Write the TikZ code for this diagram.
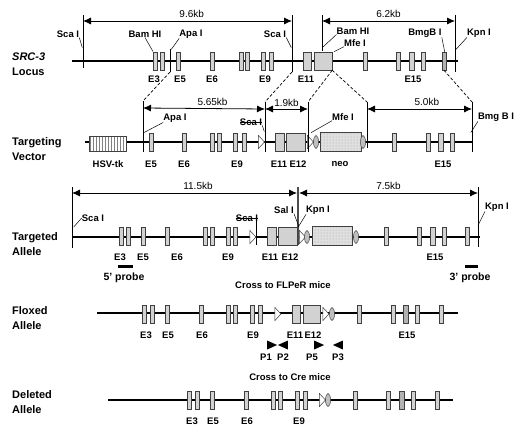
\documentclass[tikz,border=0pt]{standalone}
\usepackage{fontspec}
\setmainfont{Liberation Sans}
\usetikzlibrary{arrows.meta,shapes.geometric,patterns}

\begin{document}
\begin{tikzpicture}[x=1pt,y=-1pt,
    exon/.style={rectangle,draw=black!75,fill=gray!35,line width=0.5pt,minimum width=4pt,minimum height=18pt,inner sep=0pt},
    dark/.style={exon,fill=gray!60},
    neo/.style={exon,minimum height=19pt,preaction={fill=gray!25},pattern=dots,pattern color=gray!70},
    tk/.style={rectangle,draw=black!75,line width=0.5pt,minimum width=37pt,minimum height=15pt,inner sep=0pt,preaction={fill=white},pattern=vertical lines,pattern color=gray},
    frt/.style={isosceles triangle,isosceles triangle stretches,draw=black!75,fill=white,line width=0.5pt,minimum height=6pt,minimum width=13pt,inner sep=0pt},
    lox/.style={ellipse,draw=black!75,fill=gray!50,line width=0.5pt,minimum width=5pt,minimum height=13pt,inner sep=0pt},
    primer/.style={isosceles triangle,isosceles triangle stretches,fill=black,minimum height=10pt,minimum width=9pt,inner sep=0pt},
    probe/.style={rectangle,fill=black,minimum width=15pt,minimum height=3pt,inner sep=0pt},
    lbl/.style={font=\bfseries\fontsize{9.5}{10}\selectfont,inner sep=0pt},
    big/.style={font=\bfseries\fontsize{10.5}{11}\selectfont,inner sep=0pt},
    kb/.style={font=\fontsize{10}{11}\selectfont,inner sep=0pt},
    row/.style={font=\bfseries\fontsize{11}{15}\selectfont,align=left,anchor=west,inner sep=0pt},
    dim/.style={{Latex[length=8pt,width=7pt]}-{Latex[length=8pt,width=7pt]},line width=0.8pt},
    site/.style={line width=0.8pt},
    lead/.style={line width=0.5pt},
    cut/.style={dash pattern=on 3pt off 2pt,line width=0.7pt},
    dna/.style={line width=1.5pt}]
  \useasboundingbox[fill=white] (0,0) rectangle (518,434);

  % SRC-3 locus
  \node[row] (r1) at (12,64) {\itshape SRC-3\\Locus};
  \draw[dna] (72,61) -- (458,61);
  \foreach \x [count=\i] in {155,162,178,212,241,247,263,271,365,398,423}
    \node[exon] (a\i) at (\x,61) {};
  \node[exon,minimum width=5pt] (aE15) at (412,61) {};
  \node[dark] (aBmg) at (444,61) {};
  \node[exon,minimum width=8pt] (aE11) at (307,61) {};
  \node[exon,minimum width=18pt] (aE12) at (323,61) {};
  \foreach \x/\t [count=\i] in {154/E3,180/E5,212/E6,265/E9,306/E11,413/E15}
    \node[lbl] (la\i) at (\x,79) {\t};
  \coordinate (sca1) at (83,21);
  \coordinate (sca2) at (292,21);
  \coordinate (bam2) at (322,21);
  \coordinate (kpn1) at (455,21);
  \coordinate (apa1) at (170,49);
  \draw[site] (sca1) ++(0,-6) -- ++(0,53);
  \draw[site] (sca2) ++(0,-6) -- ++(0,57) coordinate (sca2b);
  \draw[site] (bam2) ++(0,-6) -- ++(0,36);
  \draw[site] (kpn1) ++(0,-6) -- ++(0,57);
  \draw[site] (apa1) -- ++(0,23) coordinate (apa1b);
  \draw[dim] (sca1) -- node[kb,above=3pt,pos=.52] {9.6kb} (sca2);
  \draw[dim] (bam2) -- node[kb,above=3pt] {6.2kb} (kpn1);
  \node[lbl] (ls1) at (68,34) {Sca I};
  \node[lbl] (lb1) at (145,34) {Bam HI};
  \node[lbl] (lp1) at (191,34) {Apa I};
  \node[lbl] (ls2) at (275,34) {Sca I};
  \node[lbl] (lb2) at (353,31) {Bam HI};
  \node[lbl] (lm1) at (355,43) {Mfe I};
  \node[lbl] (lg1) at (425,33) {BmgB I};
  \node[lbl] (lk1) at (479,33) {Kpn I};
  \draw[lead] (ls1.south east) -- ++(3,10);
  \draw[lead] (lb1.south) -- ++(8,14);
  \draw[lead] (lp1.south west) -- ++(-8,11);
  \draw[lead] (ls2.south east) -- ++(5,10);
  \draw[lead] (lb2.south west) -- ++(-14,13);
  \draw[lead] (lm1.south west) -- ++(-10,5);
  \draw[lead] (lg1.south east) -- ++(3,15);
  \draw[lead] (lk1.south west) -- ++(-11,12);

  % targeting vector
  \coordinate (apa2) at (143,101);
  \coordinate (sca3) at (265,102);
  \coordinate (mfe2) at (308,102);
  \coordinate (neo2) at (367,102);
  \coordinate (bmg2) at (472,102);
  \draw[cut] (apa1b) -- (apa2);
  \draw[cut] (sca2b) -- (sca3);
  \draw[cut] (aE12.south east) -- (mfe2);
  \draw[cut] (aE12.south east) -- (neo2);
  \draw[cut] (aBmg.south) -- (bmg2);
  \node[row] (r2) at (12,149) {Targeting\\Vector};
  \draw[dna] (85,142) -- (473,142);
  \node[tk] (tk) at (107.5,144) {};
  \foreach \x [count=\i] in {151,184,212,219,235,244,394,428,452}
    \node[exon] (b\i) at (\x,142) {};
  \node[exon,minimum width=5pt] (bE15) at (441,142) {};
  \node[frt] (bf1) at (261,142) {};
  \node[exon,minimum width=9pt] (bE11) at (279.5,142) {};
  \node[exon,minimum width=19pt] (bE12) at (295.5,142) {};
  \node[frt] (bf2) at (310,142) {};
  \node[lox] (bl1) at (316,142) {};
  \node[neo,minimum width=41pt] (bneo) at (340.5,142) {};
  \node[lox] (bl2) at (363,142) {};
  \draw[site] (apa2) -- ++(0,51);
  \draw[site] (sca3) -- ++(0,50);
  \draw[site] (mfe2) -- ++(0,50);
  \draw[site] (neo2) -- ++(0,46);
  \draw[site] (bmg2) -- ++(0,50);
  \draw[dim] ([yshift=-7pt]apa2) -- node[kb,above=3pt,pos=.57] {5.65kb} ([yshift=-7pt]sca3);
  \draw[dim] ([yshift=-7pt]sca3) -- node[kb,above=2pt] {1.9kb} ([yshift=-7pt]mfe2);
  \draw[dim] ([yshift=-7pt]neo2) -- node[kb,above=3pt,pos=.57] {5.0kb} ([yshift=-7pt]bmg2);
  \node[lbl] (lp2) at (175,118) {Apa I};
  \node[lbl] (ls3) at (251,122) {Sca I};
  \node[lbl] (lm2) at (343,117) {Mfe I};
  \node[lbl] (lg2) at (496,117) {Bmg B I};
  \draw[lead] (ls3.west) -- (ls3.east);
  \draw[lead] (lp2.south west) -- ++(-19,10);
  \draw[lead] (ls3.south east) -- ++(2,6);
  \draw[lead] (lm2.south west) -- ++(-21,12);
  \draw[lead] (lg2.south west) -- ++(-7,11);
  \foreach \x/\t [count=\i] in {108/HSV-tk,151/E5,184/E6,237/E9,279/E11,298/E12,340/neo,443/E15}
    \node[lbl] (lb\i) at (\x,164) {\t};

  % targeted allele
  \node[row] (r3) at (12,244) {Targeted\\Allele};
  \draw[dna] (72,237) -- (480,237);
  \coordinate (sca4) at (72,187);
  \coordinate (sal) at (298,187);
  \coordinate (kpn3) at (478,187);
  \coordinate (sca5) at (256,218);
  \draw[site] (sca4) -- ++(0,61);
  \draw[site,line width=1.6pt,black!70] (sal) -- ++(0,58);
  \draw[site] (kpn3) -- ++(0,60);
  \draw[site] (sca5) -- ++(0,27);
  \draw[dim] ([yshift=-6pt]sca4) -- node[kb,above=3pt,pos=.56] {11.5kb} ([yshift=-6pt,xshift=-1pt]sal);
  \draw[dim] ([yshift=-6pt,xshift=1pt]sal) -- node[kb,above=3pt] {7.5kb} ([yshift=-6pt]kpn3);
  \foreach \x [count=\i] in {121,128,143,167,205,212,228,235,386,419,444,467}
    \node[exon] (c\i) at (\x,236) {};
  \node[exon,minimum width=5pt] (cE15) at (433,236) {};
  \node[frt] (cf1) at (252.5,237) {};
  \node[exon,minimum width=9pt] (cE11) at (271.5,236) {};
  \node[exon,minimum width=19pt] (cE12) at (287.5,236) {};
  \node[frt] (cf2) at (302,237) {};
  \node[lox] (cl1) at (307,237) {};
  \node[neo,minimum width=40pt] (cneo) at (332,236) {};
  \node[lox] (cl2) at (356,237) {};
  \node[lbl] (ls4) at (93,218) {Sca I};
  \node[lbl] (ls5) at (247,218) {Sca I};
  \node[lbl] (lsal) at (284,210) {Sal I};
  \node[lbl] (lk2) at (318,210) {Kpn I};
  \node[lbl] (lk3) at (497,207) {Kpn I};
  \draw[lead] (ls5.west) -- (ls5.east);
  \draw[lead] (ls4.west) -- ++(-8,9);
  \draw[lead] (lsal.south east) -- ++(5,13);
  \draw[lead] (lk2.south west) -- ++(-8,13);
  \draw[lead] (lk3.south west) -- ++(-7,14);
  \foreach \x/\t [count=\i] in {120/E3,143/E5,177/E6,228/E9,270/E11,290/E12,435/E15}
    \node[lbl] (lc\i) at (\x,257) {\t};
  \node[probe] (p5) at (125.5,266) {};
  \node[probe,minimum width=13pt] (p3) at (471.5,266) {};
  \node[big] (lp5) at (124,278) {5' probe};
  \node[big] (lp3) at (470,278) {3' probe};
  \node[lbl] (flp) at (283,285) {Cross to FLPeR mice};

  % floxed allele
  \node[row] (r4) at (12,318) {Floxed\\Allele};
  \draw[dna] (97,313) -- (458,313);
  \foreach \x [count=\i] in {144,152,167,201,228,235,252,260,359,393,417,441}
    \node[exon] (d\i) at (\x,314) {};
  \node[dark,minimum width=5pt] (dE15) at (406,314) {};
  \node[frt] (df1) at (277.5,314) {};
  \node[exon,minimum width=8pt] (dE11) at (296,314) {};
  \node[exon,minimum width=17pt] (dE12) at (311.5,314) {};
  \node[frt] (df2) at (325.5,314) {};
  \node[lox] (dl1) at (332,314) {};
  \foreach \x/\t [count=\i] in {146/E3,168/E5,202/E6,253/E9,295/E11,313/E12,407/E15}
    \node[lbl] (ld\i) at (\x,335) {\t};
  \node[primer] (q1) at (270,345) {};
  \node[primer,shape border rotate=180] (q2) at (285,345) {};
  \node[primer] (q5) at (317,345) {};
  \node[primer,shape border rotate=180] (q3) at (340,345) {};
  \foreach \x/\t [count=\i] in {266/P1,283/P2,312/P5,338/P3}
    \node[lbl] (lq\i) at (\x,357) {\t};
  \node[lbl] (cre) at (290,377) {Cross to Cre mice};

  % deleted allele
  \node[row] (r5) at (12,402) {Deleted\\Allele};
  \draw[dna] (108,400) -- (453,400);
  \foreach \x [count=\i] in {189,197,212,246,273,280,297,305,355,388,413,437}
    \node[exon] (e\i) at (\x,400) {};
  \node[dark,minimum width=5pt] (eE15) at (402,400) {};
  \node[frt] (ef1) at (322,400) {};
  \node[lox] (el1) at (328,400) {};
  \foreach \x/\t [count=\i] in {192/E3,213/E5,247/E6,299/E9}
    \node[lbl] (le\i) at (\x,421) {\t};
\end{tikzpicture}
\end{document}
